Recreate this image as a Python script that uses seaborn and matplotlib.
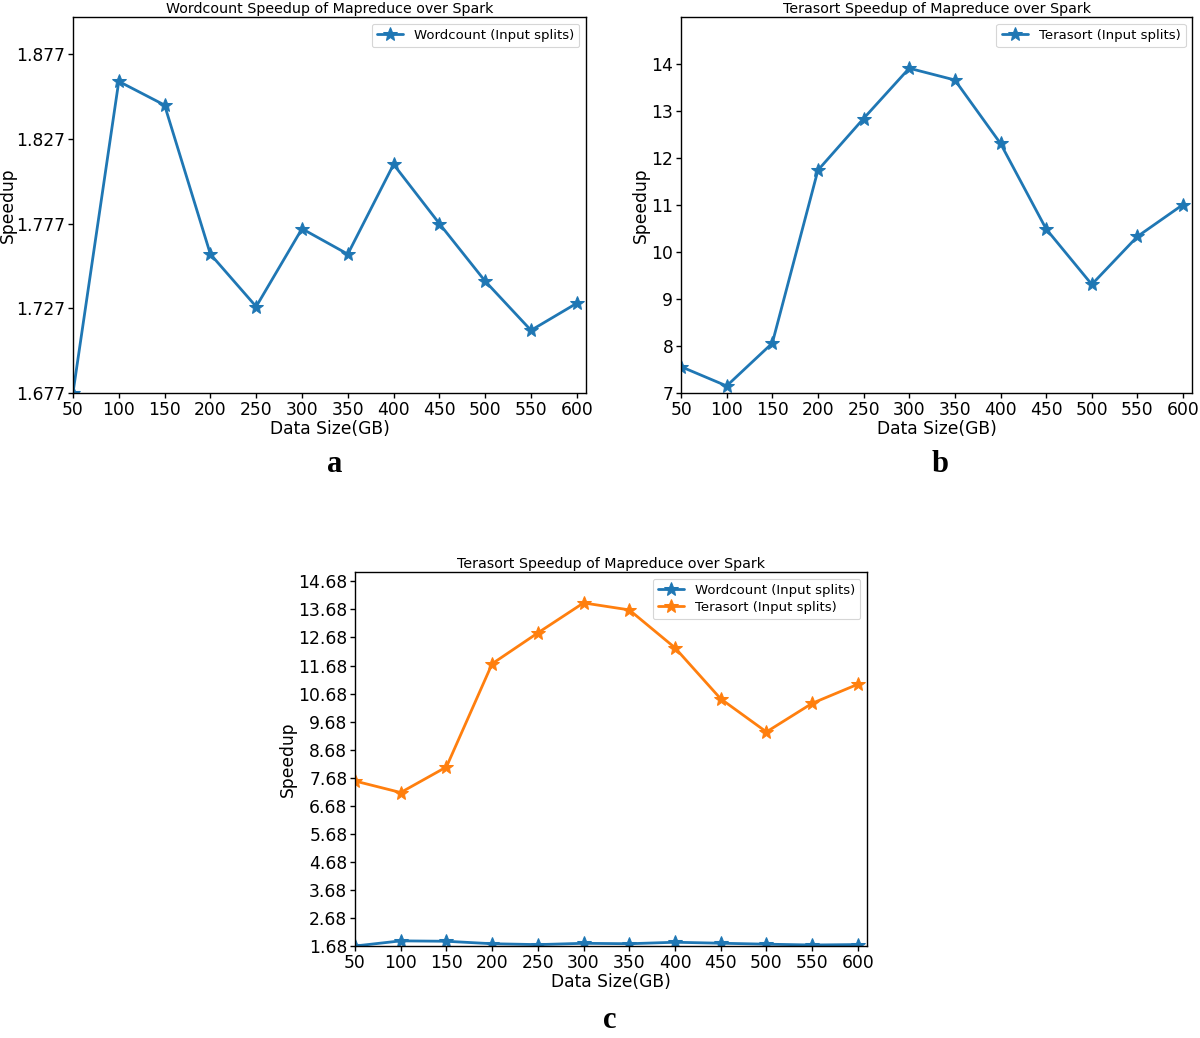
import numpy as np
import matplotlib
matplotlib.use("Agg")
import matplotlib.pyplot as plt
import seaborn as sns
from matplotlib.ticker import FormatStrFormatter

# Data
data_sizes = [50, 100, 150, 200, 250, 300, 350, 400, 450, 500, 550, 600]
wordcount_speedup = [1.677, 1.861, 1.847, 1.759, 1.728, 1.774, 1.759, 1.812,
                     1.777, 1.743, 1.714, 1.730]
terasort_speedup = [7.56, 7.15, 8.06, 11.74, 12.84, 13.91, 13.66, 12.31,
                    10.49, 9.31, 10.33, 11.01]

BLUE = "#1f77b4"
ORANGE = "#ff7f0e"

sns.set_theme(style="ticks")
plt.rcParams["font.family"] = ["DejaVu Sans"]
plt.rcParams["axes.edgecolor"] = "black"
plt.rcParams["axes.labelcolor"] = "black"
plt.rcParams["text.color"] = "black"
plt.rcParams["xtick.color"] = "black"
plt.rcParams["ytick.color"] = "black"
plt.rcParams["axes.linewidth"] = 1.0

TICK_FS = 12.3
LABEL_FS = 12.3
TITLE_FS = 10.3
LEGEND_FS = 9.5


def draw_series(ax, y, label, color):
    sns.lineplot(x=data_sizes, y=y, ax=ax, color=color, marker="*",
                 markersize=10, markeredgecolor=color, linewidth=2,
                 label=label)


def style_axes(ax, title):
    ax.set_title(title, fontsize=TITLE_FS, pad=3)
    ax.set_xlabel("Data Size(GB)", fontsize=LABEL_FS, labelpad=1)
    ax.set_ylabel("Speedup", fontsize=LABEL_FS, labelpad=1)
    ax.set_xticks(data_sizes)
    ax.set_xlim(50, 610)
    ax.tick_params(axis="both", labelsize=TICK_FS, length=3.5, width=1,
                   pad=2)
    for sp in ax.spines.values():
        sp.set_visible(True)
        sp.set_color("black")
    leg = ax.legend(loc="upper right", fontsize=LEGEND_FS, frameon=True,
                    fancybox=True, edgecolor="#cccccc", framealpha=0.8,
                    handlelength=2.0, borderpad=0.4, labelspacing=0.3)
    leg.get_frame().set_linewidth(0.8)


fig = plt.figure(figsize=(12, 10.38), dpi=100)

# ── a) Wordcount ──
ax_a = fig.add_axes([0.0608, 0.6214, 0.4275, 0.3622])
draw_series(ax_a, wordcount_speedup, "Wordcount (Input splits)", BLUE)
style_axes(ax_a, "Wordcount Speedup of Mapreduce over Spark")
wc_min = min(wordcount_speedup)
ax_a.set_yticks(np.arange(wc_min, 1.88, 0.05))
ax_a.yaxis.set_major_formatter(FormatStrFormatter("%.3f"))
ax_a.set_ylim(wc_min, 1.899)
ax_a.yaxis.set_label_coords(-0.110, 0.5)

# ── b) Terasort ──
ax_b = fig.add_axes([0.5675, 0.6214, 0.426, 0.3622])
draw_series(ax_b, terasort_speedup, "Terasort (Input splits)", BLUE)
style_axes(ax_b, "Terasort Speedup of Mapreduce over Spark")
ax_b.set_yticks(np.arange(7, 15, 1))
ax_b.set_ylim(7, 15)

# ── c) Begge ──
ax_c = fig.add_axes([0.2958, 0.0886, 0.4267, 0.3603])
draw_series(ax_c, wordcount_speedup, "Wordcount (Input splits)", BLUE)
draw_series(ax_c, terasort_speedup, "Terasort (Input splits)", ORANGE)
style_axes(ax_c, "Terasort Speedup of Mapreduce over Spark")
ax_c.set_yticks(np.arange(wc_min, 15, 1))
ax_c.yaxis.set_major_formatter(FormatStrFormatter("%.2f"))
ax_c.set_ylim(wc_min, 15.01)

# Panel-bogstaver
for x, y, s in [(335 / 1200, 1 - 465 / 1038, "a"),
                (940 / 1200, 1 - 465 / 1038, "b"),
                (610 / 1200, 1 - 1020 / 1038, "c")]:
    fig.text(x, y, s, fontsize=22, fontweight="bold",
             family=["Liberation Serif", "DejaVu Serif"],
             ha="center", va="center")

fig.savefig("out.png", dpi=100, facecolor="white")
